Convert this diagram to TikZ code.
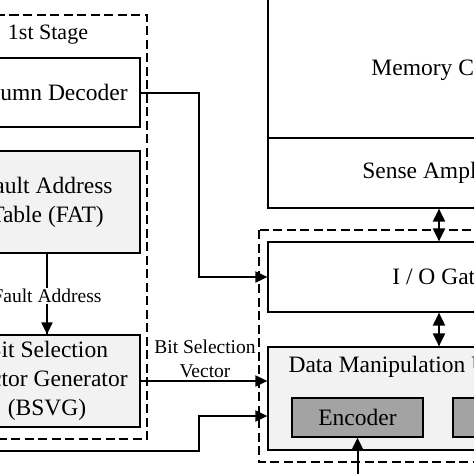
\documentclass[tikz,border=0pt]{standalone}
\usepackage{fontspec}
\setmainfont{Liberation Serif}
\usetikzlibrary{arrows.meta}
\definecolor{lightfill}{HTML}{F2F2F2}
\definecolor{darkfill}{HTML}{A3A3A3}
\tikzset{
  blk/.style={draw=black, line width=1.2pt, inner sep=0pt, align=center,
    font=\fontsize{23.5}{29}\selectfont},
  lbl/.style={inner sep=1pt, align=center, font=\fontsize{19.5}{24}\selectfont},
  conn/.style={line width=2pt, -{Triangle[length=12pt,width=11pt]}},
  dbl/.style={line width=2pt, {Triangle[length=13pt,width=12pt]}-{Triangle[length=13pt,width=12pt]}},
  stagebox/.style={draw=black, line width=1.5pt, dash pattern=on 9pt off 4.5pt},
}
\begin{document}
\begin{tikzpicture}[x=1pt,y=-1pt]
\useasboundingbox (0,0) rectangle (474,474);
\clip (0,0) rectangle (474,474);
\fill[white] (0,0) rectangle (474,474);
% left stage
\draw[stagebox] (-51,15) rectangle (147,439);
\node[lbl, font=\fontsize{22}{26}\selectfont] (stage) at (48,35) {1st Stage};
\node[blk, fill=white, minimum width=186pt, minimum height=69pt] (coldec) at (47,92.5) {Column Decoder};
\node[blk, fill=lightfill, minimum width=186pt, minimum height=102pt] (fat) at (47,202) {Fault Address\\Table (FAT)};
\node[blk, fill=lightfill, minimum width=186pt, minimum height=92pt] (bsvg) at (47,381) {Bit Selection\\Vector Generator\\(BSVG)};
% right stage
\draw[stagebox] (259,230) rectangle (619,462);
\node[blk, fill=white, minimum width=342pt, minimum height=156pt] (mem) at (439,60) {};
\node[blk, draw=none] (memtext) at (439,70) {Memory Cells};
\node[blk, fill=white, minimum width=342pt, minimum height=70pt] (sense) at (439,173) {Sense Amplifier};
\node[blk, fill=white, minimum width=342pt, minimum height=70pt] (io) at (439,277) {I / O Gate};
\node[blk, fill=lightfill, minimum width=342pt, minimum height=103pt] (dmu) at (439,398.5) {};
\node[blk, draw=none] (dmutext) at (439,367) {Data Manipulation Unit (DMU)};
\node[blk, fill=darkfill, minimum width=131pt, minimum height=39pt] (enc) at (357.5,417.5) {Encoder};
\node[blk, fill=darkfill, minimum width=131pt, minimum height=39pt] (dec) at (518.5,417.5) {Decoder};
% connectors
\coordinate (c1) at (199,92.5);
\coordinate (c2) at (199,277);
\draw[conn] (coldec.east) -- (c1) -- (c2) -- (io.west);
\draw[line width=2pt] (fat.south) -- (bsvg.north);
\node[lbl, fill=white] (falbl) at (47,296) {Fault Address};
\draw[conn] (falbl.south) -- (bsvg.north);
\draw[conn] (bsvg.east |- 0,381) -- (dmu.west |- 0,381);
\node[lbl] (bslbl) at (205,359) {Bit Selection\\Vector};
\coordinate (b0) at (-20,451);
\coordinate (b1) at (199,451);
\coordinate (b2) at (199,416);
\draw[conn] (b0) -- (b1) -- (b2) -- (dmu.west |- b2);
\coordinate (e0) at (357.5,490);
\draw[conn] (e0) -- (enc.south);
\draw[dbl] (sense.south) -- (io.north);
\draw[dbl] (io.south) -- (dmu.north);
\end{tikzpicture}
\end{document}
